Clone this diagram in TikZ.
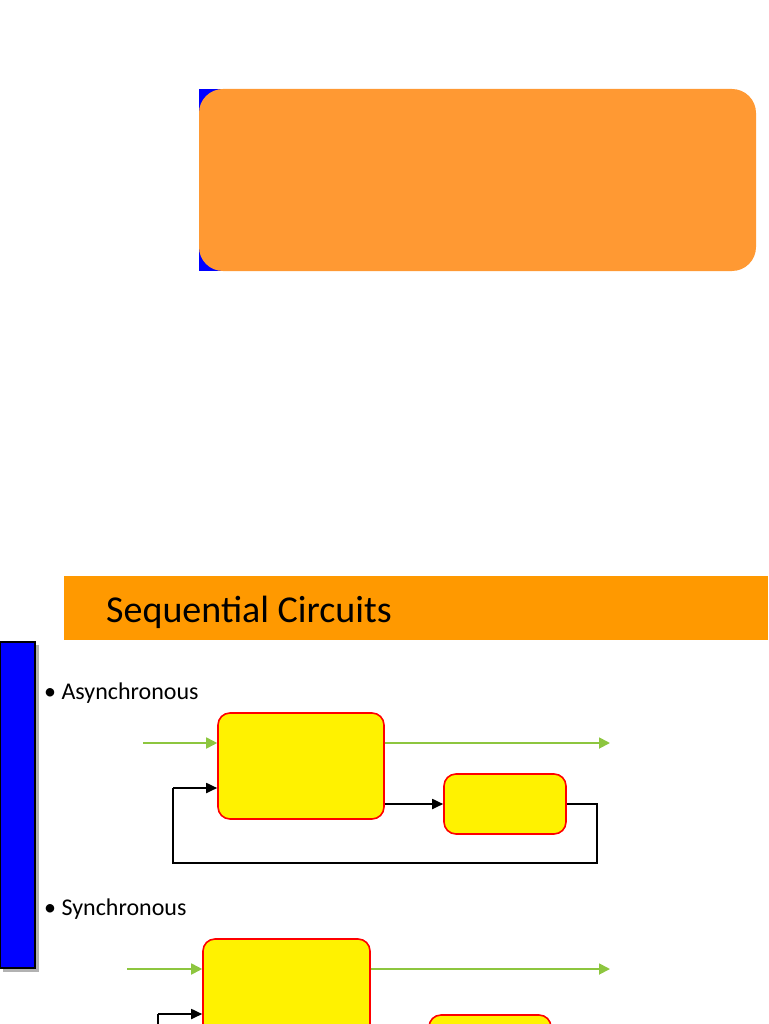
\documentclass[tikz,border=0pt]{standalone}
\usepackage{fontspec}
\setmainfont{Carlito}
\usetikzlibrary{arrows.meta}
\definecolor{topor}{HTML}{FF9933}
\definecolor{baror}{HTML}{FF9900}
\definecolor{grn}{HTML}{8DC63F}
\tikzset{
 blk/.style={fill=yellow,draw=red,line width=1.6pt,rounded corners=12pt},
 garr/.style={draw=grn,line width=1.8pt,-{Triangle[length=11pt,width=11pt]}},
 barr/.style={draw=black,line width=1.8pt,-{Triangle[length=11pt,width=10pt]}},
 bline/.style={draw=black,line width=1.8pt},
}
\begin{document}
\begin{tikzpicture}[x=1pt,y=-1pt]
\useasboundingbox (0,0) rectangle (768,1024);
\clip (0,0) rectangle (768,1024);
% top box
\fill[blue] (199,89) rectangle (240,271);
\fill[topor,rounded corners=24pt] (199,89) rectangle (756,271);
% title bar
\fill[baror] (64,576) rectangle (768,640);
\node[anchor=base west,font=\fontsize{38}{40}\selectfont,inner sep=0] (title) at (106,622) {Sequential Circuits};
% blue side bar
\fill[gray!60] (3,645) rectangle (39,972);
\filldraw[fill=blue,draw=black,line width=1.5pt] (0,642) rectangle (35,968);
% bullets
\node[anchor=base west,font=\fontsize{24}{26}\selectfont,inner sep=0] (b1) at (44,699) {• Asynchronous};
\node[anchor=base west,font=\fontsize{24}{26}\selectfont,inner sep=0] (b2) at (44,915) {• Synchronous};
% async
\node[blk,minimum width=166pt,minimum height=106pt] (A1) at (301,766) {};
\node[blk,minimum width=122pt,minimum height=60pt] (A2) at (505,804) {};
\coordinate (ain) at (143,743);
\coordinate (aout) at (610,743);
\draw[garr] (ain) -- (ain -| A1.west);
\draw[garr] (aout -| A1.east) -- (aout);
\draw[barr] (A1.east |- A2.west) -- (A2.west);
\coordinate (fb1) at (597,863);
\coordinate (fb2) at (173,863);
\coordinate (fb3) at (173,788);
\draw[bline] (A2.east) -| (fb1) -- (fb2) -- (fb3);
\draw[barr] (fb3) -- (fb3 -| A1.west);
% sync
\node[blk,minimum width=167pt,minimum height=180pt] (S1) at (286.5,1029) {};
\node[blk,minimum width=122pt,minimum height=60pt] (S2) at (490,1045) {};
\coordinate (sin) at (127,969);
\coordinate (sout) at (610,969);
\draw[garr] (sin) -- (sin -| S1.west);
\draw[garr] (sout -| S1.east) -- (sout);
\coordinate (sf1) at (158,1040);
\coordinate (sf2) at (158,1014);
\draw[bline] (sf1) -- (sf2);
\draw[barr] (sf2) -- (sf2 -| S1.west);
\coordinate (s2in) at (370,1030);
\draw[barr] (s2in) -- (s2in -| S2.west);
\end{tikzpicture}
\end{document}
